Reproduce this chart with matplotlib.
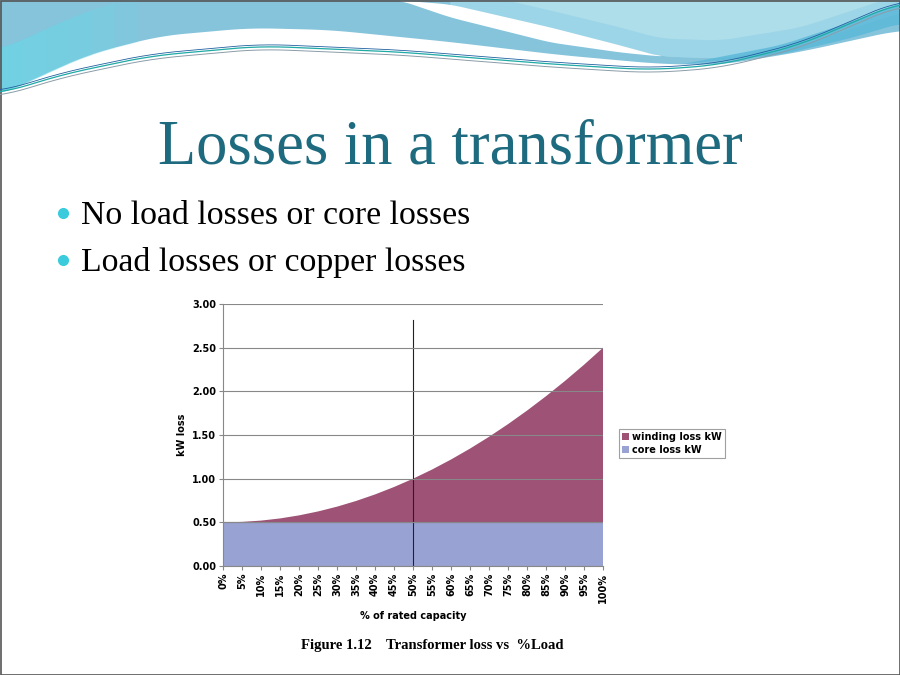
import numpy as np
import matplotlib.pyplot as plt

# data (kW)
load_labels = ['0%', '5%', '10%', '15%', '20%', '25%', '30%', '35%', '40%', '45%', '50%',
               '55%', '60%', '65%', '70%', '75%', '80%', '85%', '90%', '95%', '100%']
core_loss = [0.50] * 21
winding_loss = [0.000, 0.005, 0.020, 0.045, 0.080, 0.125, 0.180, 0.245, 0.320, 0.405, 0.500,
                0.605, 0.720, 0.845, 0.980, 1.125, 1.280, 1.445, 1.620, 1.805, 2.000]
y_ticks = [0.0, 0.5, 1.0, 1.5, 2.0, 2.5, 3.0]
marker_idx = 10      # vertical marker at 50 %
marker_top = 2.82


def smooth_curve(xs, px, py, w=40):
    # dense piecewise-linear curve, softened with a moving average
    y = np.interp(xs, px, py)
    pad = np.concatenate([np.full(w, y[0]), y, np.full(w, y[-1])])
    k = np.ones(2 * w + 1) / (2 * w + 1)
    return np.convolve(pad, k, mode='same')[w:-w]


fig = plt.figure(figsize=(9, 6.75), dpi=100)
fig.patch.set_facecolor('white')

# slide background / decoration, pixel coords
bg = fig.add_axes([0, 0, 1, 1])
bg.set_xlim(0, 900)
bg.set_ylim(675, 0)
bg.axis('off')

xs = np.linspace(0, 900, 901)
base_lo = smooth_curve(xs, [0, 40, 90, 160, 250, 330, 450, 560, 660, 720, 800, 900],
                       [95, 76, 54, 36, 28, 30, 42, 55, 64, 65, 52, 30], w=25)
bg.fill_between(xs, 0, base_lo, color='#86c4dc', lw=0)
fade = np.clip(1 - xs / 160, 0, 1)
for i in range(6):
    m = fade > (i + 1) / 7
    bg.fill_between(xs[m], base_lo[m] - 45, base_lo[m], color='#6ad8e6', alpha=0.18, lw=0)

# light area above the white swoosh
light_lo = smooth_curve(xs, [450, 550, 620, 660, 720, 800, 900], [5, 28, 45, 56, 58, 45, 12], w=15)
m = xs >= 450
bg.fill_between(xs[m], 0, light_lo[m], color='#aedeea', lw=0)
bg.fill_between(xs[m], light_lo[m] - 18, light_lo[m], color='#93cfe8', alpha=0.6, lw=0)
# white swoosh
sw_top = smooth_curve(xs, [400, 450, 550, 620, 660], [0, 4, 27, 45, 56], w=12)
sw_bot = smooth_curve(xs, [400, 450, 550, 620, 660], [0, 17, 42, 52, 56], w=12)
m = (xs >= 400) & (xs <= 660)
bg.fill_between(xs[m], sw_top[m], np.maximum(sw_bot[m], sw_top[m]), color='white', lw=0)
# deeper band at the right
band = smooth_curve(xs, [680, 780, 850, 900], [64, 52, 34, 18], w=15)
thick = np.clip((xs - 680) / 220, 0, 1) * 16
m = xs >= 680
bg.fill_between(xs[m], band[m] - thick[m], band[m] + thick[m] * 0.3, color='#58b8d8', lw=0, alpha=0.8)

line_y = smooth_curve(xs, [0, 60, 150, 260, 400, 550, 650, 720, 800, 900],
                      [94, 75, 56, 46, 52, 64, 70, 65, 45, 2], w=30)
bg.plot(xs, line_y, color='#1faaa6', lw=0.9)
bg.plot(xs, line_y + 3, color='#8a9ca8', lw=0.7)
bg.plot(xs, line_y - 2, color='#2060a0', lw=0.6)
bg.add_patch(plt.Rectangle((0.5, 0.5), 899, 674, fill=False, ec='#555555', lw=1.2))

bg.text(450, 148, 'Losses in a transformer', fontsize=45, color='#1e6b80',
        family='Liberation Serif', ha='center', va='center')
for yy, txt in [(216, 'No load losses or core losses'), (263, 'Load losses or copper losses')]:
    bg.plot(63, yy - 3, 'o', ms=7, color='#3ccbdc')
    bg.text(81, yy, txt, fontsize=24.3, color='black', family='Liberation Serif',
            ha='left', va='center')

bg.text(432, 645, 'Figure 1.12    Transformer loss vs  %Load', fontsize=10.5,
        family='Liberation Serif', weight='bold', ha='center', va='center')

# chart
ax = fig.add_axes([0.248, 0.1615, 0.422, 0.388])
x = np.arange(len(load_labels))
ax.stackplot(x, core_loss, winding_loss, colors=['#99a3d3', '#9e5276'],
             labels=['core loss kW', 'winding loss kW'], lw=0)
ax.plot(x, core_loss, color='#6a4a78', lw=0.8)
ax.plot([marker_idx, marker_idx], [0, marker_top], color='#222222', lw=0.8)

ax.set_xlim(0, len(load_labels) - 1)
ax.set_ylim(0, 3.0)
ax.set_yticks(y_ticks)
ax.set_yticklabels([f'{v:.2f}' for v in y_ticks], fontsize=7, weight='bold')
ax.set_xticks(x)
ax.set_xticklabels(load_labels, rotation=90, fontsize=7, weight='bold')
ax.yaxis.grid(True, color='#888888', lw=0.8)
ax.set_axisbelow(False)
for s in ['top', 'right']:
    ax.spines[s].set_visible(False)
ax.spines['left'].set_color('#888888')
ax.spines['bottom'].set_color('#888888')
ax.tick_params(length=3, color='#888888', pad=2)
ax.set_ylabel('kW loss', fontsize=7, weight='bold', labelpad=4)
ax.set_xlabel('% of rated capacity', fontsize=7, weight='bold', labelpad=6)

h, l = ax.get_legend_handles_labels()
leg = ax.legend(h[::-1], l[::-1], loc='upper left', bbox_to_anchor=(614 / 900, 1 - 424 / 675),
                bbox_transform=fig.transFigure, frameon=True, fancybox=False,
                handlelength=0.7, handleheight=0.7, handletextpad=0.4, borderpad=0.3,
                labelspacing=0.3, prop={'weight': 'bold', 'size': 7})
leg.get_frame().set_edgecolor('#888888')
leg.get_frame().set_linewidth(0.8)

fig.savefig('out.png', dpi=100)
